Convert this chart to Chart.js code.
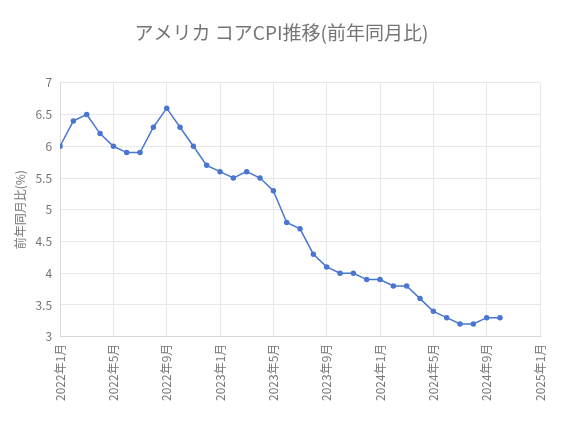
<!DOCTYPE html>
<html><head><meta charset="utf-8">
<script src="https://cdn.jsdelivr.net/npm/chart.js@4/dist/chart.umd.min.js"></script>
<style>html,body{margin:0;padding:0;background:#fff;}#c{display:block;}</style>
</head><body>
<canvas id="c" width="565" height="424"></canvas>
<script>
const months = [];
for (let y = 2022; y <= 2025; y++) for (let m = 1; m <= 12; m++) { if (y === 2025 && m > 1) break; months.push(y + '年' + m + '月'); }
const coreCPI = [6.0, 6.4, 6.5, 6.2, 6.0, 5.9, 5.9, 6.3, 6.6, 6.3, 6.0, 5.7,
                 5.6, 5.5, 5.6, 5.5, 5.3, 4.8, 4.7, 4.3, 4.1, 4.0, 4.0, 3.9,
                 3.9, 3.8, 3.8, 3.6, 3.4, 3.3, 3.2, 3.2, 3.3, 3.3];
const yTicks = [3, 3.5, 4, 4.5, 5, 5.5, 6, 6.5, 7];
const titleText = 'アメリカ コアCPI推移(前年同月比)';
const yTitle = '前年同月比(%)';

const font = "'Noto Sans CJK JP', 'Noto Sans', sans-serif";
const points = coreCPI.map((v, i) => ({ x: i, y: v }));

new Chart(document.getElementById('c'), {
  type: 'line',
  data: { datasets: [{ data: points, borderColor: '#4a76d1', backgroundColor: '#4a76d1', borderWidth: 1.5, pointRadius: 2, pointHoverRadius: 2, tension: 0 }] },
  options: {
    responsive: false, animation: false,
    layout: { padding: { left: 4, right: 6, top: 8, bottom: 16 } },
    plugins: {
      legend: { display: false }, tooltip: { enabled: false },
      title: { display: true, text: titleText, color: '#757575', font: { family: font, size: 19, weight: 'normal' }, padding: { top: 13, bottom: 39 } }
    },
    scales: {
      x: {
        type: 'linear', min: 0, max: months.length - 1,
        afterBuildTicks: s => { s.ticks = []; for (let i = 0; i < months.length; i += 4) s.ticks.push({ value: i }); },
        ticks: { autoSkip: false, maxRotation: 90, minRotation: 90, color: '#757575', font: { family: font, size: 12 }, callback: v => months[v] || '', padding: 7 },
        grid: { color: '#e8e8e8', drawTicks: false },
        border: { color: '#d8d8d8' }
      },
      y: {
        min: 3, max: 7,
        afterBuildTicks: s => { s.ticks = yTicks.map(v => ({ value: v })); },
        ticks: { color: '#757575', font: { family: font, size: 12 }, padding: 8, callback: v => String(v) },
        grid: { color: '#e8e8e8', drawTicks: false },
        border: { color: '#d8d8d8' },
        title: { display: true, text: yTitle, color: '#757575', font: { family: font, size: 12 }, padding: { top: 9, bottom: 0 } }
      },
      yPad: {
        position: 'right', display: true,
        ticks: { display: false }, grid: { display: false }, border: { display: false },
        afterFit: s => { s.width = 19; }
      }
    }
  }
});
</script>
</body></html>
